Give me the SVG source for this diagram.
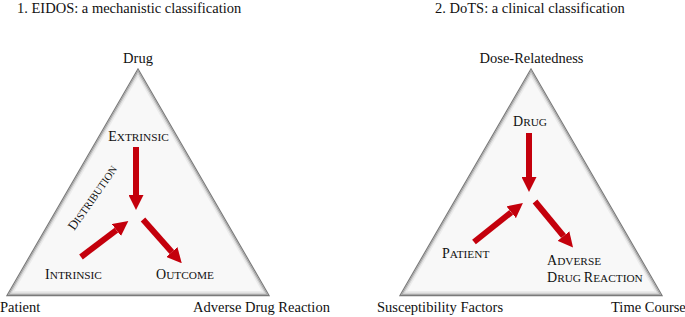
<svg xmlns="http://www.w3.org/2000/svg" width="685" height="317" viewBox="0 0 685 317">
<style>
  text { font-family: "Liberation Serif", "Times New Roman", serif; fill: #111; }
  .lbl { font-size: 14.5px; }
  .cap { font-size: 14px; }
  .sc { font-size: 11.3px; }
  .tri-out { fill: #f8f8f8; stroke: #7a7a7a; stroke-width: 1.3; stroke-linejoin: miter; }
  .tri-in1 { fill: none; stroke: #a8a8a8; stroke-width: 1.6; }
  .tri-in2 { fill: none; stroke: #d2d2d2; stroke-width: 1.6; }
  .tri-in3 { fill: none; stroke: #ebebeb; stroke-width: 1.4; }
  .arrow { stroke: #c4000c; stroke-width: 6; fill: none; stroke-linecap: butt; marker-end: url(#head); }
</style>
<defs>
  <marker id="head" viewBox="0 0 15 15" refX="0" refY="7.5" markerWidth="15" markerHeight="15" markerUnits="userSpaceOnUse" orient="auto">
    <path d="M0,0 L15,7.5 L0,15 Z" fill="#c4000c"/>
  </marker>
</defs>
<rect width="685" height="317" fill="#ffffff"/>

<!-- Titles -->
<g id="title-eidos"><text class="lbl" x="17" y="13">1. EIDOS: a mechanistic classification</text></g>
<g id="title-dots"><text class="lbl" x="435" y="13">2. DoTS: a clinical classification</text></g>

<!-- Left triangle -->
<g id="eidos-triangle">
  <polygon class="tri-out" points="138,69 7,295.5 269,295.5"/>
  <polygon class="tri-in1" points="138,71.4 9.2,294.2 266.8,294.2"/>
  <polygon class="tri-in2" points="138,73.6 11.2,293 264.8,293"/>
  <polygon class="tri-in3" points="138,75.8 13.1,291.8 262.9,291.8"/>
</g>

<!-- Right triangle -->
<g id="dots-triangle">
  <polygon class="tri-out" points="531,69 400,295.5 662,295.5"/>
  <polygon class="tri-in1" points="531,71.4 402.2,294.2 659.8,294.2"/>
  <polygon class="tri-in2" points="531,73.6 404.2,293 657.8,293"/>
  <polygon class="tri-in3" points="531,75.8 406.1,291.8 655.9,291.8"/>
</g>

<!-- Left labels -->
<g id="node-drug"><text class="lbl" x="138" y="63" text-anchor="middle">Drug</text></g>
<g id="node-patient"><text class="lbl" x="0" y="312">Patient</text></g>
<g id="node-adr"><text class="lbl" x="193" y="312">Adverse Drug Reaction</text></g>
<g id="node-extrinsic"><text class="cap" x="138.5" y="141" text-anchor="middle">E<tspan class="sc">XTRINSIC</tspan></text></g>
<g id="node-intrinsic"><text class="cap" x="73.5" y="279" text-anchor="middle">I<tspan class="sc">NTRINSIC</tspan></text></g>
<g id="node-outcome"><text class="cap" x="185" y="279" text-anchor="middle">O<tspan class="sc">UTCOME</tspan></text></g>
<g id="node-distribution"><text class="cap" x="0" y="0" text-anchor="middle" transform="translate(96,200) rotate(-55)" style="font-size:13px">D<tspan style="font-size:10.6px">ISTRIBUTION</tspan></text></g>

<!-- Right labels -->
<g id="node-dose"><text class="lbl" x="531.5" y="63" text-anchor="middle">Dose-Relatedness</text></g>
<g id="node-susceptibility"><text class="lbl" x="377" y="312">Susceptibility Factors</text></g>
<g id="node-timecourse"><text class="lbl" x="611" y="312">Time Course</text></g>
<g id="node-drug2"><text class="cap" x="530" y="126" text-anchor="middle">D<tspan class="sc">RUG</tspan></text></g>
<g id="node-patient2"><text class="cap" x="442" y="257.5">P<tspan class="sc">ATIENT</tspan></text></g>
<g id="node-adr2">
  <text class="cap" x="547" y="265">A<tspan class="sc">DVERSE</tspan></text>
  <text class="cap" x="547" y="282">D<tspan class="sc">RUG </tspan>R<tspan class="sc">EACTION</tspan></text>
</g>

<!-- Connectors -->
<g id="connectors">
  <path class="arrow" d="M136,147 L136,195"/>
  <path class="arrow" d="M81,257 L116.4,230.1"/>
  <path class="arrow" d="M143,219.5 L171.8,252"/>
  <path class="arrow" d="M529,133 L529,177"/>
  <path class="arrow" d="M474,242 L511.2,212.3"/>
  <path class="arrow" d="M535,201.5 L563.5,236"/>
</g>
</svg>
